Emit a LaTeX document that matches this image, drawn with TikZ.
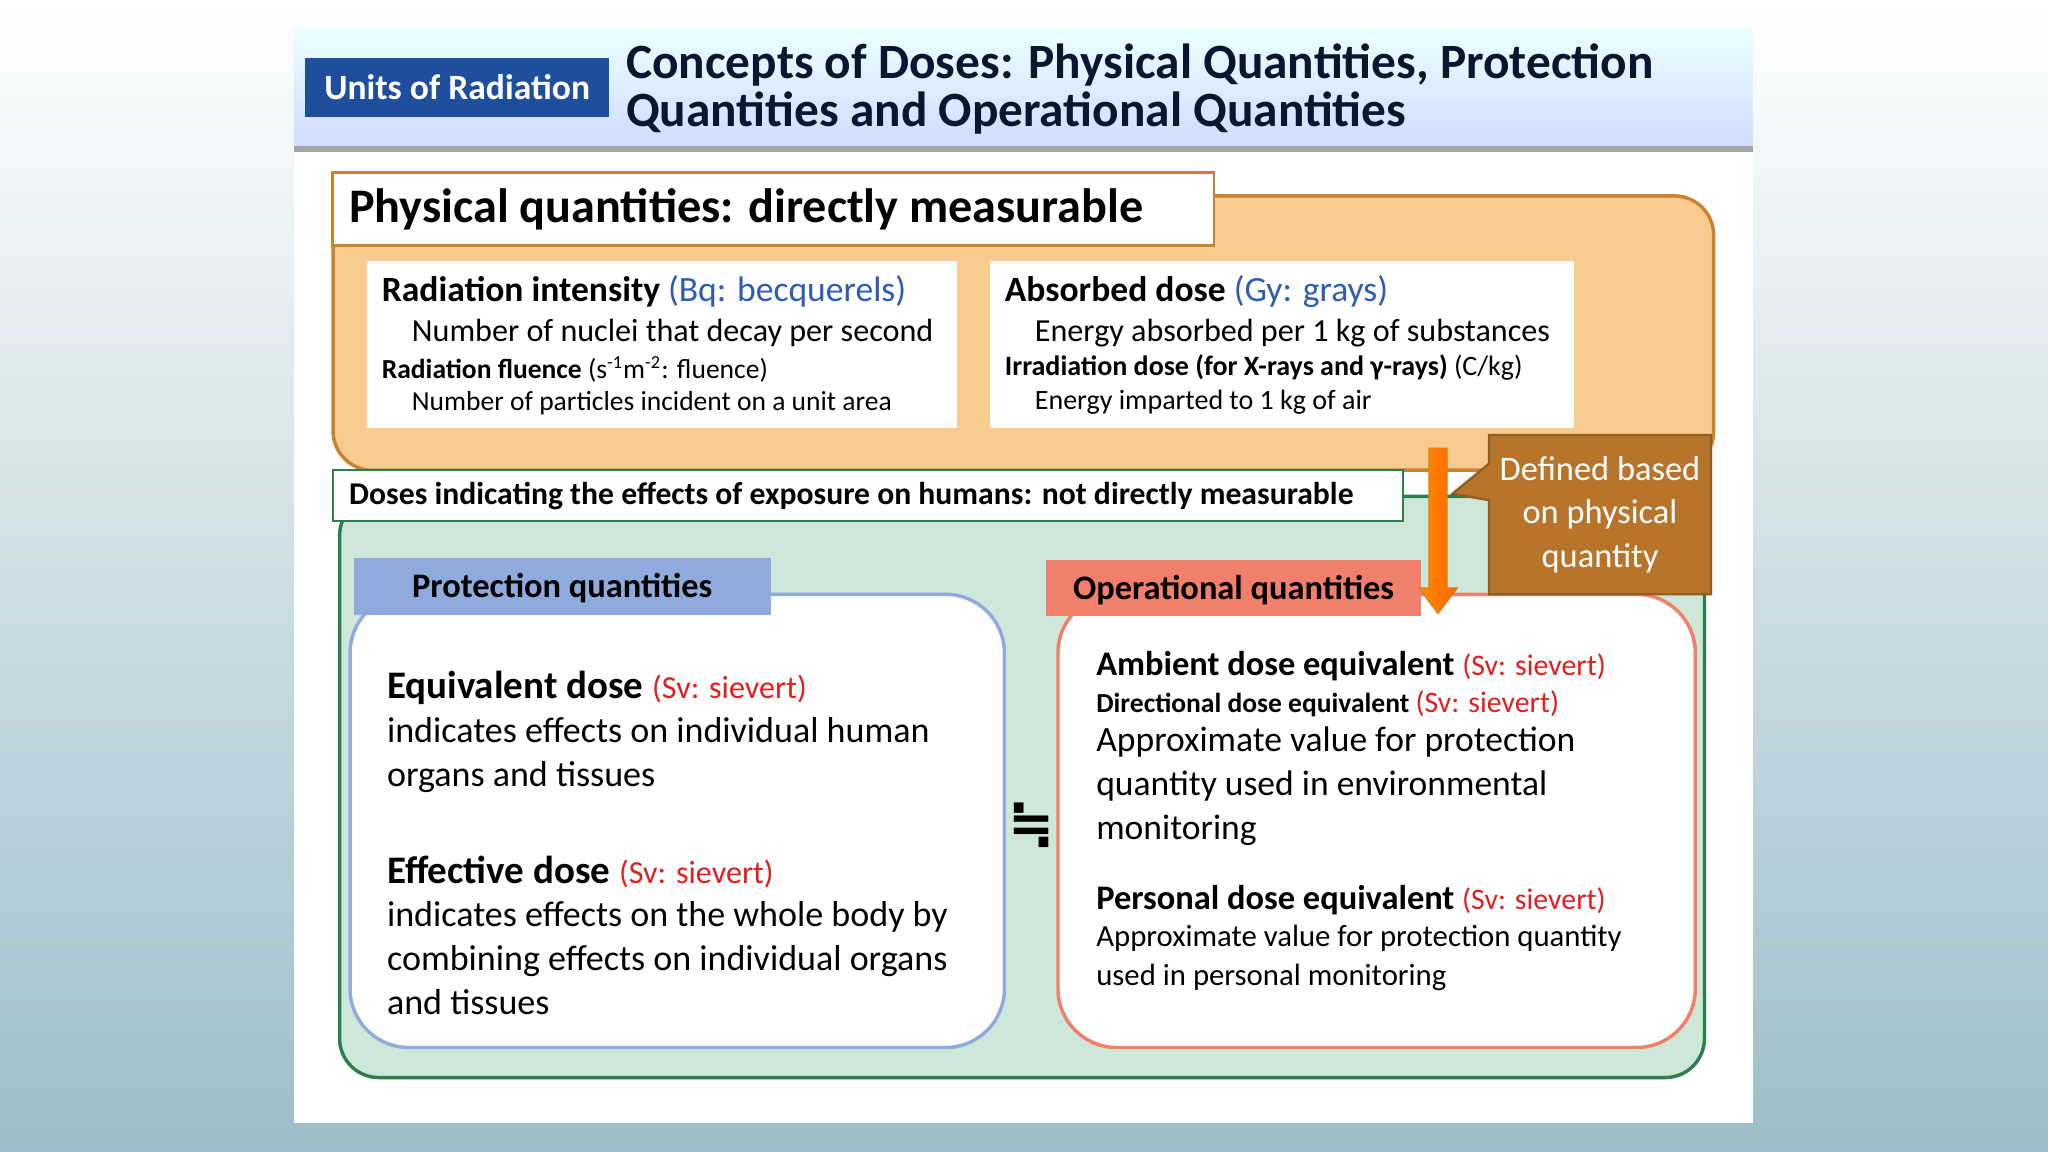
\documentclass[tikz,border=0pt]{standalone}
\usepackage{fontspec}
\setmainfont{Carlito}
\newfontfamily\djv{DejaVu Sans}
\usetikzlibrary{shadows}
\definecolor{hdrblue}{HTML}{1F4E9C}
\definecolor{titlec}{HTML}{0A1630}
\definecolor{orfill}{HTML}{F8CB8E}
\definecolor{ordraw}{HTML}{C9822D}
\definecolor{grfill}{HTML}{CFE7D8}
\definecolor{grdraw}{HTML}{2E7D4F}
\definecolor{protc}{HTML}{8FAADC}
\definecolor{operc}{HTML}{F07F6B}
\definecolor{unitblue}{HTML}{2E5CB0}
\definecolor{unitred}{HTML}{E02020}
\definecolor{brown}{HTML}{B8742A}
\newcommand{\fsz}[2]{\fontsize{#1}{#2}\selectfont}
\tikzset{
 lbl/.style={anchor=west,inner sep=0pt,align=left},
}
\newcommand{\bu}[1]{\textcolor{unitblue}{#1}}
\begin{document}
\begin{tikzpicture}[x=0.02cm,y=-0.02cm]
\useasboundingbox (0,0) rectangle (1568,882);
\shade[top color=white,bottom color=blue!25!cyan!30!gray!60] (0,0) rectangle (1568,882);
\fill[white] (225,22) rectangle (1342,860);
\shade[top color=cyan!8,bottom color=cyan!22!blue!18] (225,22) rectangle (1342,112);
\fill[gray!70] (225,112) rectangle (1342,116);
\node[fill=hdrblue,text=white,minimum width=233*0.02cm,minimum height=45*0.02cm,font=\fsz{15.5pt}{18pt}\bfseries] (tag) at (350,67) {Units of Radiation};
\node[lbl,font=\fsz{21.5pt}{21pt}\bfseries,text=titlec] (title) at (479,68) {Concepts of Doses: Physical Quantities, Protection\\Quantities and Operational Quantities};
% orange area
\draw[fill=orfill,draw=ordraw,line width=1.5pt,rounded corners=30*0.02cm] (255,150) rectangle (1312,360);
\node[draw=ordraw,fill=white,line width=1pt,minimum width=675*0.02cm,minimum height=56*0.02cm] (physlab) at (592,160) {};
\node[lbl,font=\fsz{21pt}{24pt}\bfseries] at (267,160) {Physical quantities: directly measurable};
\fill[white] (281,200) rectangle (733,328);
\fill[white] (758,200) rectangle (1205,328);
\node[lbl,font=\fsz{15.5pt}{18pt}] (ri) at (292,223) {\textbf{Radiation intensity} \bu{(Bq: becquerels)}};
\node[lbl,font=\fsz{14pt}{17pt}] at (315,255) {Number of nuclei that decay per second};
\node[lbl,font=\fsz{12pt}{14pt}] at (292,283) {\textbf{Radiation fluence} (s\textsuperscript{-1}m\textsuperscript{-2}: fluence)};
\node[lbl,font=\fsz{12pt}{14pt}] at (315,309) {Number of particles incident on a unit area};
\node[lbl,font=\fsz{15.5pt}{18pt}] (ad) at (769,223) {\textbf{Absorbed dose} \bu{(Gy: grays)}};
\node[lbl,font=\fsz{14pt}{17pt}] at (792,255) {Energy absorbed per 1 kg of substances};
\node[lbl,font=\fsz{12.2pt}{14pt}] at (769,281) {\textbf{Irradiation dose (for X-rays and γ-rays)} (C/kg)};
\node[lbl,font=\fsz{12.2pt}{14pt}] at (792,308) {Energy imparted to 1 kg of air};
% green area
\draw[fill=grfill,draw=grdraw,line width=1.5pt,rounded corners=30*0.02cm] (260,380) rectangle (1305,825);
\node[draw=grdraw,fill=white,line width=0.8pt,minimum width=819*0.02cm,minimum height=39*0.02cm] (doslab) at (664.5,379.5) {};
\node[lbl,font=\fsz{13.8pt}{15pt}\bfseries] at (267,380) {Doses indicating the effects of exposure on humans: not directly measurable};
% protection
\draw[fill=white,draw=protc,line width=1.5pt,rounded corners=45*0.02cm] (268,455) rectangle (769,802);
\node[fill=protc,minimum width=319*0.02cm,minimum height=44*0.02cm] (prot) at (430.5,449) {};
\node[font=\fsz{15pt}{18pt}\bfseries] at (430.5,450) {Protection quantities};
\node[lbl,font=\fsz{17pt}{20pt}] at (296,527) {\textbf{Equivalent dose} \textcolor{unitred}{\fsz{14pt}{15pt}(Sv: sievert)}};
\node[lbl,font=\fsz{15.7pt}{19.2pt},anchor=north west] at (296,549) {indicates effects on individual human\\organs and tissues};
\node[lbl,font=\fsz{17pt}{20pt}] at (296,668) {\textbf{Effective dose} \textcolor{unitred}{\fsz{14pt}{15pt}(Sv: sievert)}};
\node[lbl,font=\fsz{15.7pt}{19.2pt},anchor=north west] at (296,690) {indicates effects on the whole body by\\combining effects on individual organs\\and tissues};
% operational
\draw[fill=white,draw=operc,line width=1.5pt,rounded corners=45*0.02cm] (810,455) rectangle (1298,802);
\node[fill=operc,minimum width=287*0.02cm,minimum height=43*0.02cm] (oper) at (944.5,450) {};
\node[font=\fsz{15pt}{18pt}\bfseries] at (944.5,452) {Operational quantities};
\node[lbl,font=\fsz{15pt}{18pt}] at (839,510) {\textbf{Ambient dose equivalent} \textcolor{unitred}{\fsz{13pt}{14pt}(Sv: sievert)}};
\node[lbl,font=\fsz{12pt}{14pt}] at (839,539) {\textbf{Directional dose equivalent} \textcolor{unitred}{\fsz{13pt}{14pt}(Sv: sievert)}};
\node[lbl,font=\fsz{15.5pt}{19.2pt},anchor=north west] at (839,556) {Approximate value for protection\\quantity used in environmental\\monitoring};
\node[lbl,font=\fsz{15pt}{18pt}] at (839,689) {\textbf{Personal dose equivalent} \textcolor{unitred}{\fsz{13pt}{14pt}(Sv: sievert)}};
\node[lbl,font=\fsz{13.4pt}{17pt},anchor=north west] at (839,708) {Approximate value for protection quantity\\used in personal monitoring};
\node[font=\fsz{24pt}{28pt}\djv\bfseries] (approx) at (790,632) {≒};
% arrow
\shade[left color=orange!90!yellow,right color=orange!80!red,draw=ordraw] (1094,343) -- (1108,343) -- (1108,450) -- (1116,450) -- (1101,470) -- (1086,450) -- (1094,450) -- cycle;
% callout
\draw[fill=brown,draw=brown!80!black,line width=1pt] (1140,333) -- (1310,333) -- (1310,455) -- (1140,455) -- (1140,383) -- (1112,378) -- (1140,355) -- cycle;
\node[font=\fsz{15pt}{19pt},text=white,align=center] (callout) at (1225,394) {Defined based\\on physical\\quantity};
\end{tikzpicture}
\end{document}
